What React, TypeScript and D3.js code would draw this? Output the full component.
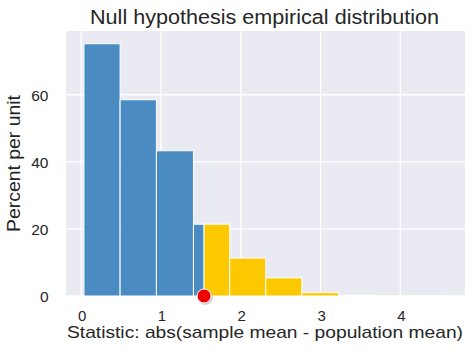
import React from "react";
import * as d3 from "d3";

const binEdges = [0.035, 0.488, 0.943, 1.407, 1.862, 2.313, 2.765, 3.225, 3.68, 4.13, 4.58];
const binValues = [75.2, 58.5, 43.3, 21.4, 11.3, 5.4, 1.0, 0.2, 0.05, 0.02];
const observedStat = 1.54;
const xTicks = [0, 1, 2, 3, 4];
const yTicks = [0, 20, 40, 60];
const titleText = "Null hypothesis empirical distribution";
const xLabel = "Statistic: abs(sample mean - population mean)";
const yLabel = "Percent per unit";

const W = 474, H = 358;
const M = { left: 66, right: 465, top: 31, bottom: 296 };
const BLUE = "#4a8cc2";
const GOLD = "#fcc800";
const FONT = "'Liberation Sans', Arial, sans-serif";
const INK = "#262626";

export default function App() {
  const x = d3.scaleLinear().domain([-0.19, 4.81]).range([M.left, M.right]);
  const y = d3.scaleLinear().domain([0, 79]).range([M.bottom, M.top]);

  const rects: any[] = [];
  binValues.forEach((v, i) => {
    const a = binEdges[i], b = binEdges[i + 1];
    if (b <= observedStat) {
      rects.push({ a, b, v, c: BLUE, k: "b" + i });
    } else if (a >= observedStat) {
      rects.push({ a, b, v, c: GOLD, k: "g" + i });
    } else {
      rects.push({ a, b: observedStat, v, c: BLUE, k: "b" + i });
      rects.push({ a: observedStat, b, v, c: GOLD, k: "g" + i });
    }
  });

  return (
    <svg width={W} height={H} style={{ position: "absolute", left: 0, top: 0, background: "#fff" }}>
      <rect x={M.left} y={M.top} width={M.right - M.left} height={M.bottom - M.top} fill="#eaeaf2" />
      {xTicks.map((t) => (
        <line key={"gx" + t} x1={x(t)} x2={x(t)} y1={M.top} y2={M.bottom} stroke="#fff" strokeWidth={1.3} />
      ))}
      {yTicks.map((t) => (
        <line key={"gy" + t} x1={M.left} x2={M.right} y1={y(t)} y2={y(t)} stroke="#fff" strokeWidth={1.3} />
      ))}
      {rects.map((r) => (
        <rect
          key={r.k}
          x={x(r.a)}
          y={y(r.v)}
          width={x(r.b) - x(r.a)}
          height={y(0) - y(r.v)}
          fill={r.c}
          stroke="#fff"
          strokeWidth={1}
        />
      ))}
      <circle cx={x(observedStat) + 1.2} cy={y(0) + 1.2} r={7.5} fill="#bbb" opacity={0.8} />
      <circle cx={x(observedStat)} cy={y(0)} r={7} fill="#ee0000" stroke="#fff" strokeWidth={1} />
      {xTicks.map((t) => (
        <text key={"tx" + t} x={x(t) + 1} y={321} textAnchor="middle" fontFamily={FONT} fontSize={15} fill={INK}>
          {t}
        </text>
      ))}
      {yTicks.map((t) => (
        <text key={"ty" + t} x={48.5} y={y(t) + 6} textAnchor="end" fontFamily={FONT} fontSize={15.5} fill={INK}>
          {t}
        </text>
      ))}
      <text
        x={264.5}
        y={24}
        textAnchor="middle"
        fontFamily={FONT}
        fontSize={19.5}
        fill={INK}
        textLength={349}
        lengthAdjust="spacingAndGlyphs"
      >
        {titleText}
      </text>
      <text
        x={265}
        y={338}
        textAnchor="middle"
        fontFamily={FONT}
        fontSize={17}
        fill={INK}
        textLength={396}
        lengthAdjust="spacingAndGlyphs"
      >
        {xLabel}
      </text>
      <text
        transform={`translate(20,163.5) rotate(-90)`}
        textAnchor="middle"
        fontFamily={FONT}
        fontSize={18}
        fill={INK}
        textLength={137}
        lengthAdjust="spacingAndGlyphs"
      >
        {yLabel}
      </text>
    </svg>
  );
}
